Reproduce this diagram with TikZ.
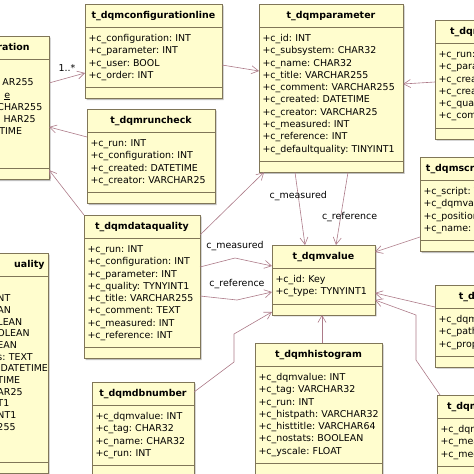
\documentclass[tikz,border=0pt]{standalone}
\usepackage{fontspec}
\setmainfont{DejaVu Sans}
\usetikzlibrary{shapes.multipart,arrows.meta,shadows}
\setlength{\parindent}{0pt}
\frenchspacing

\definecolor{tablefill}{RGB}{255,253,206}
\definecolor{tableline}{RGB}{128,118,88}
\definecolor{linkline}{RGB}{172,122,136}

\tikzset{
	schema/.style = {
		x = 1pt,
		y = -1pt,
		font = \fontsize{9.45}{12.3}\selectfont,
		link/.style = {
			draw = linkline,
			line width = 0.6pt,
			-{Straight Barb[length=7pt, width=8pt]},
		}
	},
	dbtable/.style = {
		rectangle split,
		rectangle split parts = 3,
		draw = tableline,
		line width = 0.6pt,
		fill = tablefill,
		drop shadow = {shadow xshift=1.5pt, shadow yshift=-1.5pt, fill=black, opacity=0.25},
		anchor = north west,
		outer sep = 0pt,
		inner xsep = 3.5pt,
		inner ysep = 5.2pt,
		align = left,
		text width = #1
	},
	role/.style = {
		inner sep = 1pt
	}
}

\begin{document}
\begin{tikzpicture}[schema]
	\useasboundingbox (0,0) rectangle (474,474);
	\clip (0,0) rectangle (474,474);

	% tables
	\node[dbtable=48pt] (configuration) at (-6,36) {{\bfseries\strut ration\par}
		\nodepart{two}\begin{tabular}{@{}l@{}}\mbox{}\\ \hspace{5pt}AR255\\ \hspace{7pt}\underline{e}\\ CHAR255\\ \hspace{6pt}HAR25\\ \hspace{1.8pt}TIME\\ \mbox{}\\ \mbox{}\end{tabular}
		\nodepart{three}};
	\node[dbtable=130pt] (configline) at (85,4) {{\centering\bfseries\strut t\_dqmconfigurationline\par}
		\nodepart{two}\begin{tabular}{@{}l@{}}+c\_configuration: INT\\ +c\_parameter: INT\\ +c\_user: BOOL\\ +c\_order: INT\end{tabular}
		\nodepart{three}};
	\node[dbtable=137pt] (parameter) at (259,4) {{\centering\bfseries\strut t\_dqmparameter\par}
		\nodepart{two}\begin{tabular}{@{}l@{}}+c\_id: INT\\ +c\_subsystem: CHAR32\\ +c\_name: CHAR32\\ +c\_title: VARCHAR255\\ +c\_comment: VARCHAR255\\ +c\_created: DATETIME\\ +c\_creator: VARCHAR25\\ +c\_measured: INT\\ +c\_reference: INT\\ +c\_defaultquality: TINYINT1\end{tabular}
		\nodepart{three}};
	\node[dbtable=129.8pt] (runparam) at (435,20) {{\centering\bfseries\strut t\_dqmrunparameter\par}
		\nodepart{two}\begin{tabular}{@{}l@{}}+c\_run: INT\\ +c\_parameter: INT\\ +c\_created: DATETIME\\ +c\_creator: VARCHAR25\\ +c\_quality: TINYINT1\\ +c\_comment: TEXT\end{tabular}
		\nodepart{three}};
	\node[dbtable=121pt] (runcheck) at (87,109) {{\centering\bfseries\strut t\_dqmruncheck\par}
		\nodepart{two}\begin{tabular}{@{}l@{}}+c\_run: INT\\ +c\_configuration: INT\\ +c\_created: DATETIME\\ +c\_creator: VARCHAR25\end{tabular}
		\nodepart{three}};
	\node[dbtable=96.9pt] (script) at (420,157) {{\centering\bfseries\strut t\_dqmscriptvalue\par}
		\nodepart{two}\begin{tabular}{@{}l@{}}+c\_script: TEXT\\ +c\_dqmvalue: INT\\ +c\_position: INT\\ +c\_name: CHAR32\end{tabular}
		\nodepart{three}};
	\node[dbtable=109pt] (dataquality) at (84,215) {{\centering\bfseries\strut t\_dqmdataquality\par}
		\nodepart{two}\begin{tabular}{@{}l@{}}+c\_run: INT\\ +c\_configuration: INT\\ +c\_parameter: INT\\ +c\_quality: TYNYINT1\\ +c\_title: VARCHAR255\\ +c\_comment: TEXT\\ +c\_measured: INT\\ +c\_reference: INT\end{tabular}
		\nodepart{three}};
	\node[dbtable=96pt] (value) at (272,245) {{\centering\bfseries\strut t\_dqmvalue\par}
		\nodepart{two}\begin{tabular}{@{}l@{}}+c\_id: Key\\ +c\_type: TYNYINT1\end{tabular}
		\nodepart{three}};
	\node[dbtable=47pt] (quality) at (-6,253) {{\raggedleft\bfseries\strut uality\par}
		\nodepart{two}{\renewcommand{\arraystretch}{0.95}\begin{tabular}{@{}l@{}}\mbox{}\\ NT\\ AN\\ LEAN\\ OLEAN\\ EAN\\ s: TEXT\\ \ DATETIME\\ TIME\\ AR25\\ T1\\ NT1\\ 255\\ \mbox{}\\ \mbox{}\end{tabular}}
		\nodepart{three}};
	\node[dbtable=118pt] (histpath) at (435,285) {{\centering\bfseries\strut t\_dqmhistpath\par}
		\nodepart{two}\begin{tabular}{@{}l@{}}+c\_dqmvalue: INT\\ +c\_path: VARCHAR255\\ +c\_properties: TEXT\end{tabular}
		\nodepart{three}};
	\node[dbtable=120pt] (histogram) at (255,343) {{\centering\bfseries\strut t\_dqmhistogram\par}
		\nodepart{two}\begin{tabular}{@{}l@{}}+c\_dqmvalue: INT\\ +c\_tag: VARCHAR32\\ +c\_run: INT\\ +c\_histpath: VARCHAR32\\ +c\_histtitle: VARCHAR64\\ +c\_nostats: BOOLEAN\\ +c\_yscale: FLOAT\end{tabular}
		\nodepart{three}};
	\node[dbtable=95pt] (dbnumber) at (92,382) {{\centering\bfseries\strut t\_dqmdbnumber\par}
		\nodepart{two}\begin{tabular}{@{}l@{}}+c\_dqmvalue: INT\\ +c\_tag: CHAR32\\ +c\_name: CHAR32\\ +c\_run: INT\end{tabular}
		\nodepart{three}};
	\node[dbtable=98.5pt] (numerical) at (437,395) {{\centering\bfseries\strut t\_dqmnumerical\par}
		\nodepart{two}\begin{tabular}{@{}l@{}}+c\_dqmvalue: INT\\ +c\_mean: FLOAT\\ +c\_median: FLOAT\end{tabular}
		\nodepart{three}};

	% bends
	\coordinate (dqm bend) at (235,258);
	\coordinate (dqr bend) at (237,300);
	\coordinate (db bend1) at (234,362);
	\coordinate (db bend2) at (234,334);
	\coordinate (num bend1) at (416,360);
	\coordinate (num bend2) at (416,315);

	\begin{scope}[every path/.style = link]
		\path ([yshift=-47pt]configuration.north east) to node[role, above=5pt] {1..*} ([yshift=-69pt]configline.north west);
		\path ([yshift=-61pt]configline.north east) to ([yshift=-67pt]parameter.north west);
		\path ([yshift=-28pt]runcheck.north west) to ([yshift=-91pt]configuration.north east);
		\path ([yshift=-62pt]runparam.north west) to ([yshift=-80pt]parameter.north east);
		\path ([yshift=-20pt]dataquality.north east) to ([xshift=5pt]parameter.south west);
		\path (dataquality.north west) to ([yshift=-134pt]configuration.north east);

		\path ([yshift=-52pt]dataquality.north east) -- (dqm bend) node[role, above=6pt] {c\_measured} -- ([yshift=-21pt]value.north west);
		\path ([yshift=-81pt]dataquality.north east) -- (dqr bend) node[role, above=10pt] {c\_reference} -- ([yshift=-47pt]value.north west);
		\path ([xshift=36pt]parameter.south west) to node[role, pos=0.33] {c\_measured} ([xshift=33pt]value.north west);
		\path ([xshift=89pt]parameter.south west) to node[role, pos=0.62, xshift=9pt] {c\_reference} ([xshift=64pt]value.north west);

		\path ([yshift=-80pt]script.north west) to ([yshift=-7pt]value.north east);
		\path ([yshift=-22pt]histpath.north west) to ([yshift=-48pt]value.north east);
		\path ([xshift=3pt]numerical.north west) -- (num bend1) -- (num bend2) -- ([yshift=-55pt]value.north east);
		\path ([xshift=67pt]histogram.north west) to ([xshift=50pt]value.south west);
		\path ([yshift=-10pt]dbnumber.north east) -- (db bend1) -- (db bend2) -- ([yshift=3pt]value.south west);
	\end{scope}
\end{tikzpicture}
\end{document}
